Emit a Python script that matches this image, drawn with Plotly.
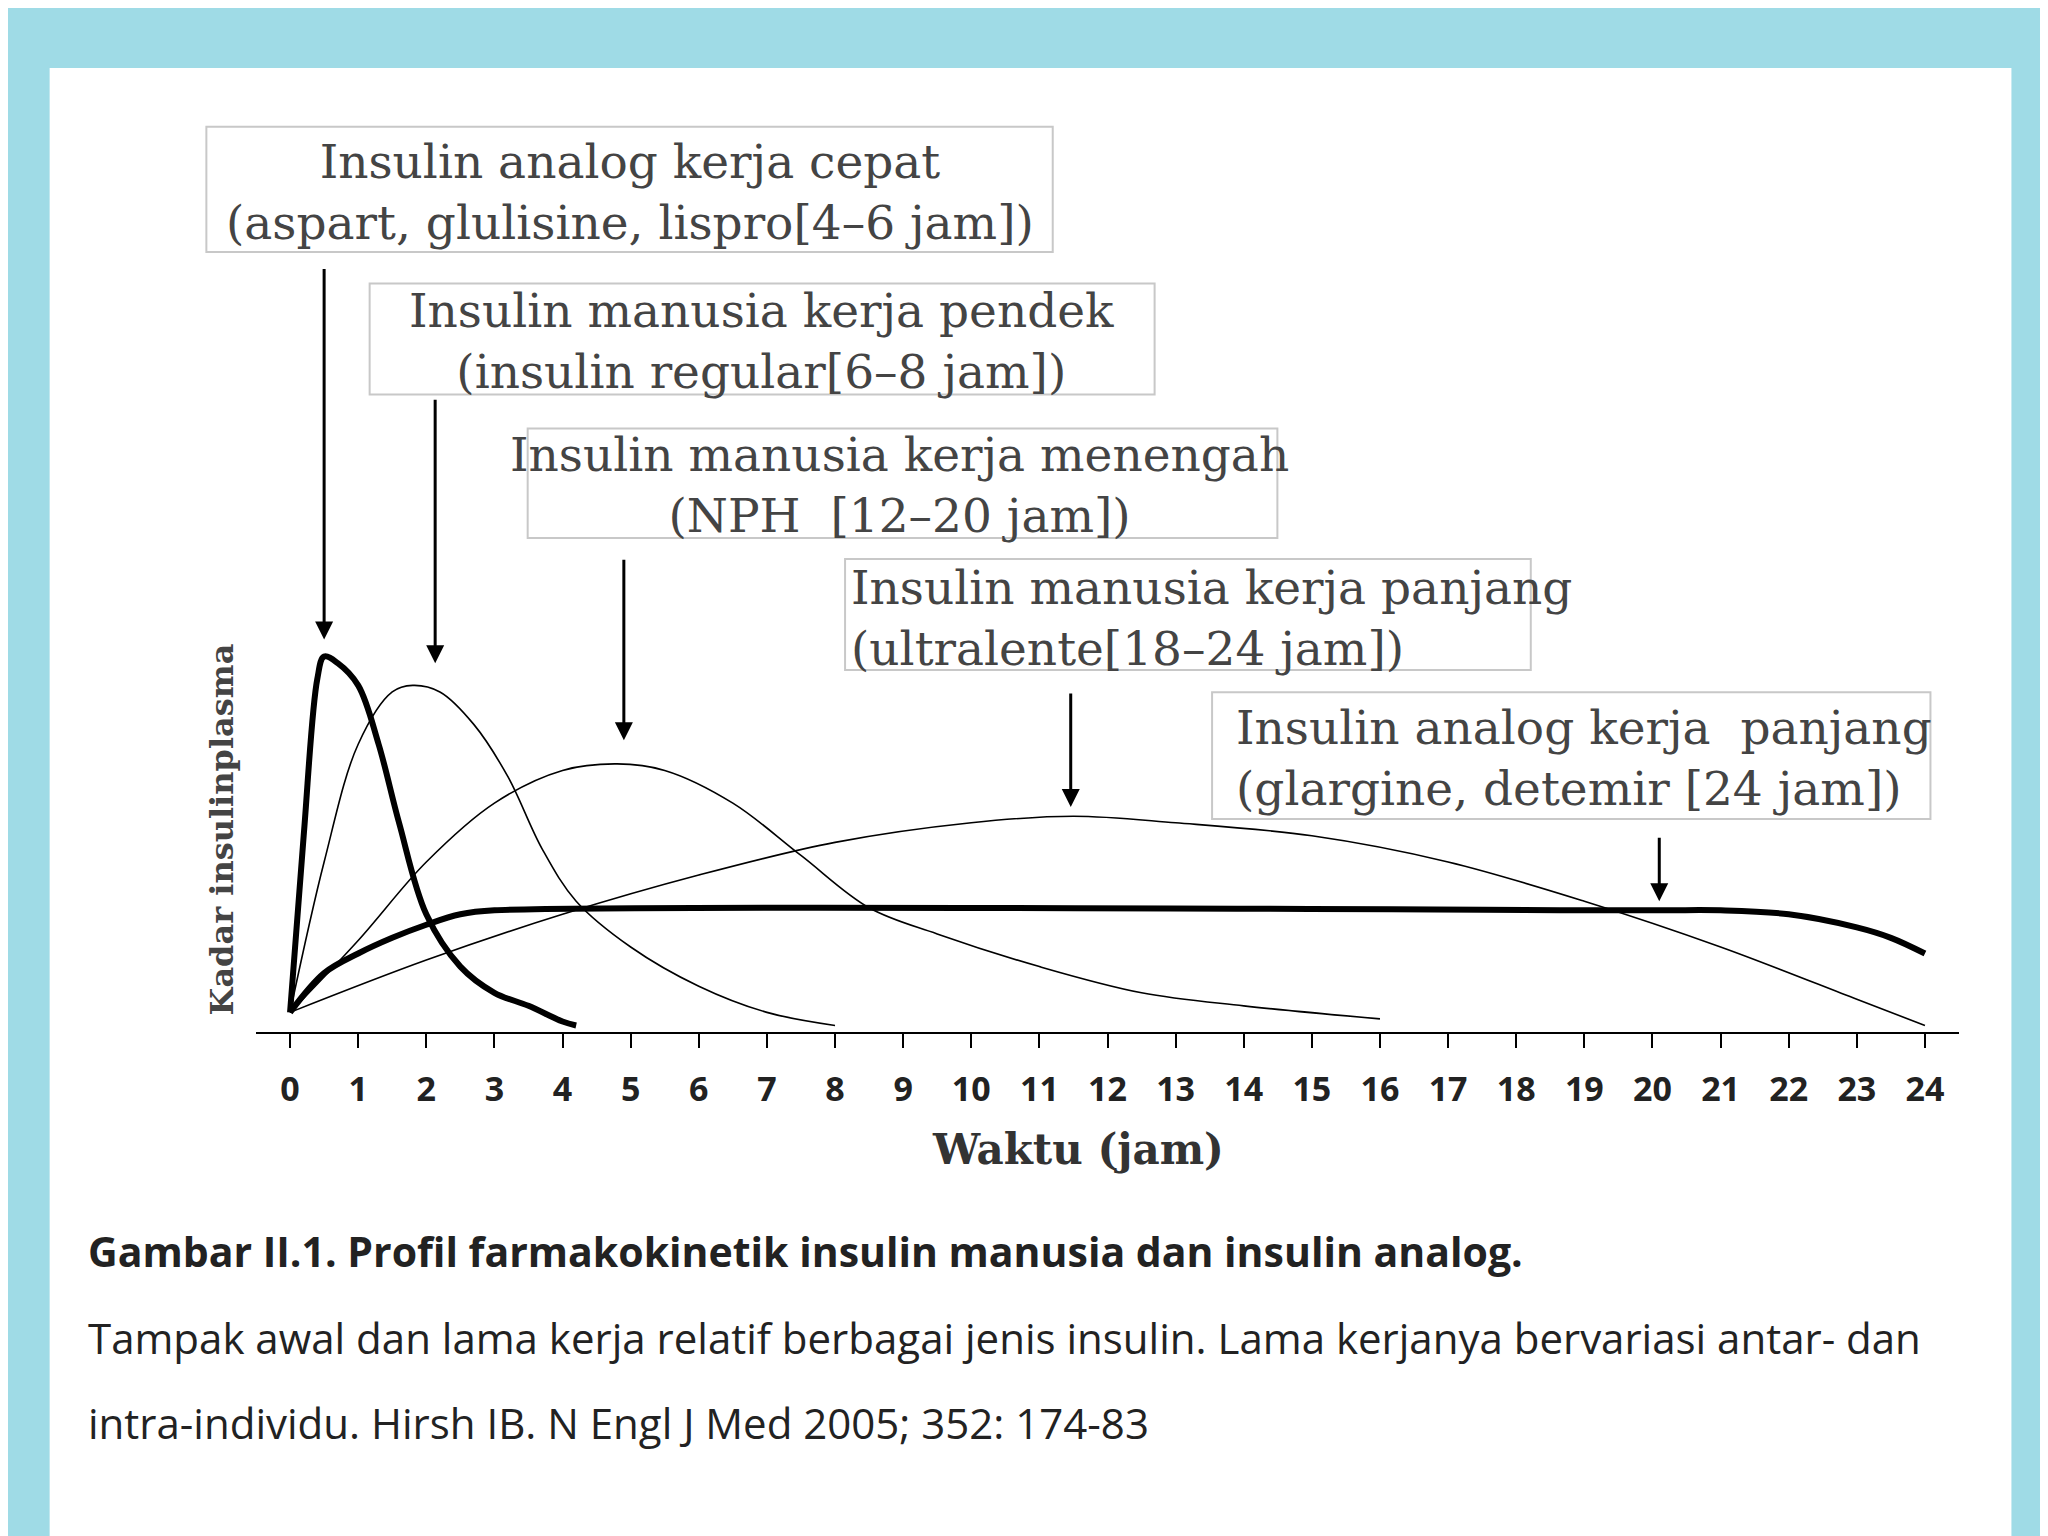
import plotly.graph_objects as go

# ---- data (y = relative plasma level) ----
rapid_x = [0, 0.2, 0.4, 0.5, 0.7, 1, 1.3, 1.6, 2, 2.5, 3, 3.5, 4, 4.2]
rapid_y = [0, 135, 255, 272, 267, 250, 205, 145, 75, 35, 15, 5, -7, -10]
regular_x = [0, 0.5, 1, 1.5, 1.8, 2.2, 2.7, 3.2, 3.7, 4.2, 5, 6, 7, 8]
regular_y = [0, 115, 205, 245, 250, 245, 220, 180, 125, 85, 50, 20, 0, -10]
nph_x = [0, 1, 2, 3, 4, 4.8, 5.5, 6.5, 7.5, 8.5, 9.5, 11, 12.5, 14, 16]
nph_y = [0, 55, 115, 160, 185, 190, 185, 160, 120, 80, 60, 35, 15, 5, -5]
ultra_x = [0, 2, 4, 6, 8, 10, 11.5, 13, 15, 17, 19, 21, 23, 24]
ultra_y = [0, 40, 75, 105, 130, 145, 150, 145, 135, 115, 85, 50, 10, -10]
glar_x = [0, 0.5, 1, 1.5, 2, 2.5, 3, 20, 21, 22, 23, 23.5, 24]
glar_y = [0, 30, 45, 57, 67, 75, 78, 78, 78, 75, 65, 57, 45]

hours = list(range(25))

labels = [
    "Insulin analog kerja cepat<br>(aspart, glulisine, lispro[4–6 jam])",
    "Insulin manusia kerja pendek<br>(insulin regular[6–8 jam])",
    "Insulin manusia kerja menengah<br>(NPH  [12–20 jam])",
    "Insulin manusia kerja panjang<br>(ultralente[18–24 jam])",
    "Insulin analog kerja  panjang<br>(glargine, detemir [24 jam])",
]
arrow_x = [0.5, 2.13, 4.9, 11.46, 20.1]
arrow_tip = [285, 267, 208, 157, 85]

# ---- geometry helpers (reference drawn at 1568 px width) ----
W, H = 2048, 1536
S = W / 1568
L, R, T, B = 256, 1959, 620, 1032
PAD = 8  # page body margin


def px(xd):
    return (xd * S - L) / (R - L)


def py(yd):
    return (B - yd * S) / (B - T)


SERIF = "DejaVu Serif, Liberation Serif, serif"
SANS = "Open Sans, Liberation Sans, sans-serif"

fig = go.Figure()
series = [(rapid_x, rapid_y, 6), (regular_x, regular_y, 1.6), (nph_x, nph_y, 1.6),
          (ultra_x, ultra_y, 1.6), (glar_x, glar_y, 6)]
for xs, ys, w in series:
    fig.add_trace(go.Scatter(x=xs, y=ys, mode="lines", line=dict(color="black", width=w, shape="spline"),
                             showlegend=False, hoverinfo="skip"))

shapes = [
    # white panel over light blue slide background
    dict(type="rect", xref="paper", yref="paper", x0=px(38), x1=px(1540), y0=py(1176), y1=py(52),
         fillcolor="white", line_width=0, layer="below"),
]
# label boxes (display px: x0, x1, y0, y1)
boxes = [(158, 806, 97, 193), (283, 884, 217, 302), (404, 978, 328, 412),
         (647, 1172, 428, 513), (928, 1478, 530, 627)]
for x0, x1, y0, y1 in boxes:
    shapes.append(dict(type="rect", xref="paper", yref="paper", x0=px(x0), x1=px(x1), y0=py(y1), y1=py(y0),
                       line=dict(color="#c8c8c8", width=2), fillcolor="rgba(0,0,0,0)"))

annotations = []
text_pos = [(482, 147, "center"), (583, 261, "center"), (689, 371, "center"),
            (650, 473, "left"), (945, 580, "left")]
for (tx, ty, al), lab in zip(text_pos, labels):
    annotations.append(dict(xref="paper", yref="paper", x=px(tx), y=py(ty), text=lab, showarrow=False,
                            xanchor="center" if al == "center" else "left", yanchor="middle", align=al,
                            font=dict(family=SERIF, size=47, color="#444")))
tails = [372, 265, 182, 115, 65]
for ax_, tip, tl in zip(arrow_x, arrow_tip, tails):
    annotations.append(dict(x=ax_, y=tip, xref="x", yref="y", ax=0, ay=-tl, showarrow=True,
                            arrowhead=2, arrowsize=1.2, arrowwidth=3, arrowcolor="black", text=""))

cap = dict(xref="paper", yref="paper", xanchor="left", yanchor="middle", showarrow=False,
           font=dict(family=SANS, size=42, color="#222"))
annotations += [
    dict(xref="paper", yref="paper", x=px(170), y=py(635), text="<b>Kadar insulinplasma</b>", textangle=-90,
         xanchor="center", yanchor="middle", showarrow=False, font=dict(family=SERIF, size=32, color="#444")),
    dict(xref="paper", yref="paper", x=px(825), y=py(880), text="<b>Waktu (jam)</b>",
         xanchor="center", yanchor="middle", showarrow=False, font=dict(family=SERIF, size=42, color="#333")),
    dict(cap, x=px(66), y=py(958),
         text="<b>Gambar II.1. Profil farmakokinetik insulin manusia dan insulin analog.</b>",
         font=dict(family=SANS, size=41, color="#222")),
    dict(cap, x=px(66), y=py(1024),
         text="Tampak awal dan lama kerja relatif berbagai jenis insulin. Lama kerjanya bervariasi antar- dan"),
    dict(cap, x=px(66), y=py(1089),
         text="intra-individu. Hirsh IB. N Engl J Med 2005; 352: 174-83"),
]

fig.update_layout(
    width=W, height=H,
    margin=dict(l=L - PAD, r=W - R + PAD, t=T - PAD, b=H - B + PAD),
    paper_bgcolor="#9fdbe6", plot_bgcolor="white",
    shapes=shapes, annotations=annotations,
    xaxis=dict(range=[-0.5, 24.5], tickvals=hours, ticktext=[f"<b>{h}</b>" for h in hours],
               showline=True, linecolor="black", linewidth=2, ticks="outside", ticklen=14,
               tickcolor="black", tickwidth=2, showgrid=False, zeroline=False, ticklabelstandoff=12,
               tickfont=dict(family=SANS, size=34, color="#222")),
    yaxis=dict(range=[-15, 300], visible=False),
)
fig.write_html("out.html")
